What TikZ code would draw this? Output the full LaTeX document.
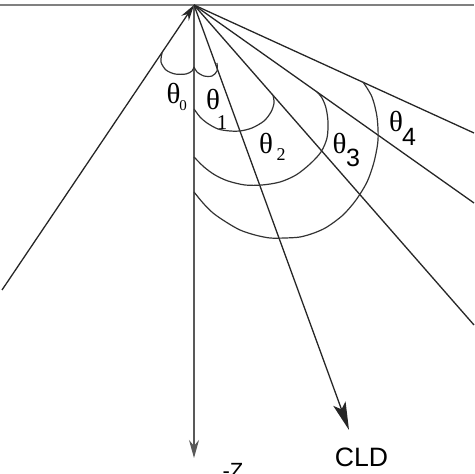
\documentclass[tikz,border=0pt]{standalone}
\usepackage{fontspec}
\setsansfont{Liberation Sans}
\newfontfamily\grkfont{Liberation Serif}
\usetikzlibrary{arrows.meta}
\tikzset{
  surface/.style={draw=black!50, line width=0.8pt},
  ray/.style={draw=black!85, line width=0.65pt},
  angarc/.style={draw=black!80, line width=0.6pt},
  thlbl/.style={inner sep=0pt, font=\grkfont\fontsize{14.5}{14.5}\selectfont},
  sublbl/.style={inner sep=0pt, font=\grkfont\fontsize{#1}{#1}\selectfont},
  sfsub/.style={inner sep=0pt, font=\sffamily\fontsize{#1}{#1}\selectfont},
  axlbl/.style={inner sep=0pt, font=\sffamily\fontsize{#1}{#1}\selectfont}
}
\begin{document}
\begin{tikzpicture}[x=0.5pt,y=-0.5pt]
\useasboundingbox (0,0) rectangle (474,474);
% surface line
\coordinate (sl) at (0,5);
\coordinate (sr) at (474,5);
\draw[surface] (sl) -- (sr);
% incident ray and scattered rays
\coordinate (o) at (194,5);
\coordinate (inc) at (2,290);
\coordinate (ztip) at (194,458);
\coordinate (cldtip) at (349,430);
\coordinate (r2) at (474,325);
\coordinate (r3) at (474,203);
\coordinate (r4) at (474,133);
\draw[ray,-{Stealth[length=8pt,width=4.5pt]}] (inc) -- (o);
\draw[ray,draw=black!65,-{Stealth[length=9pt,width=5pt]}] (o) -- (ztip);
\draw[ray,-{Stealth[length=14pt,width=6.5pt,inset=3pt]}] (o) -- (cldtip);
\draw[ray] (o) -- (r2);
\draw[ray] (o) -- (r3);
\draw[ray] (o) -- (r4);
% angle marks
\draw[angarc] plot[smooth] coordinates {(162,53) (161,62) (166,70) (175,74) (186,74) (192,71) (194,67)};
\draw[angarc] plot[smooth] coordinates {(194,67) (197,72) (204,76) (212,76) (217,71) (217,63)};
\draw[angarc] plot[smooth] coordinates {(194,109) (200,117) (207,123) (218,129) (230,131) (240,131) (252,128) (264,121) (271,112) (274,103) (273,95)};
\draw[angarc] plot[smooth] coordinates {(194,157) (204,167) (215,175) (228,181) (245,185) (262,185) (280,182) (296,175) (310,164) (321,152) (327,138) (328,122) (326,108) (322,98) (317,92)};
\draw[angarc] plot[smooth] coordinates {(194,192) (203,203) (213,213) (226,222) (240,230) (255,235) (270,238) (285,238) (300,237) (314,233) (327,227) (343,215) (356,200) (367,182) (374,162) (378,140) (377,117) (372,97) (363,82)};
% angle labels
\node[thlbl] (t0) at (173.5,94) {θ};
\node[sublbl=7.5] (t0s) at (183,106) {0};
\node[thlbl] (t1) at (213,100) {θ};
\node[sublbl=10.5] (t1s) at (222,123) {1};
\node[thlbl] (t2) at (266,144) {θ};
\node[sublbl=9] (t2s) at (281,155) {2};
\node[thlbl] (t3) at (339.5,144) {θ};
\node[sfsub=12.5] (t3s) at (353,158) {3};
\node[thlbl] (t4) at (396,122) {θ};
\node[sfsub=12.5] (t4s) at (409,137) {4};
% axis labels
\node[axlbl=13.3] (cld) at (361.5,457) {CLD};
\node[axlbl=11] (negz) at (233,471) {-Z};
\end{tikzpicture}
\end{document}
